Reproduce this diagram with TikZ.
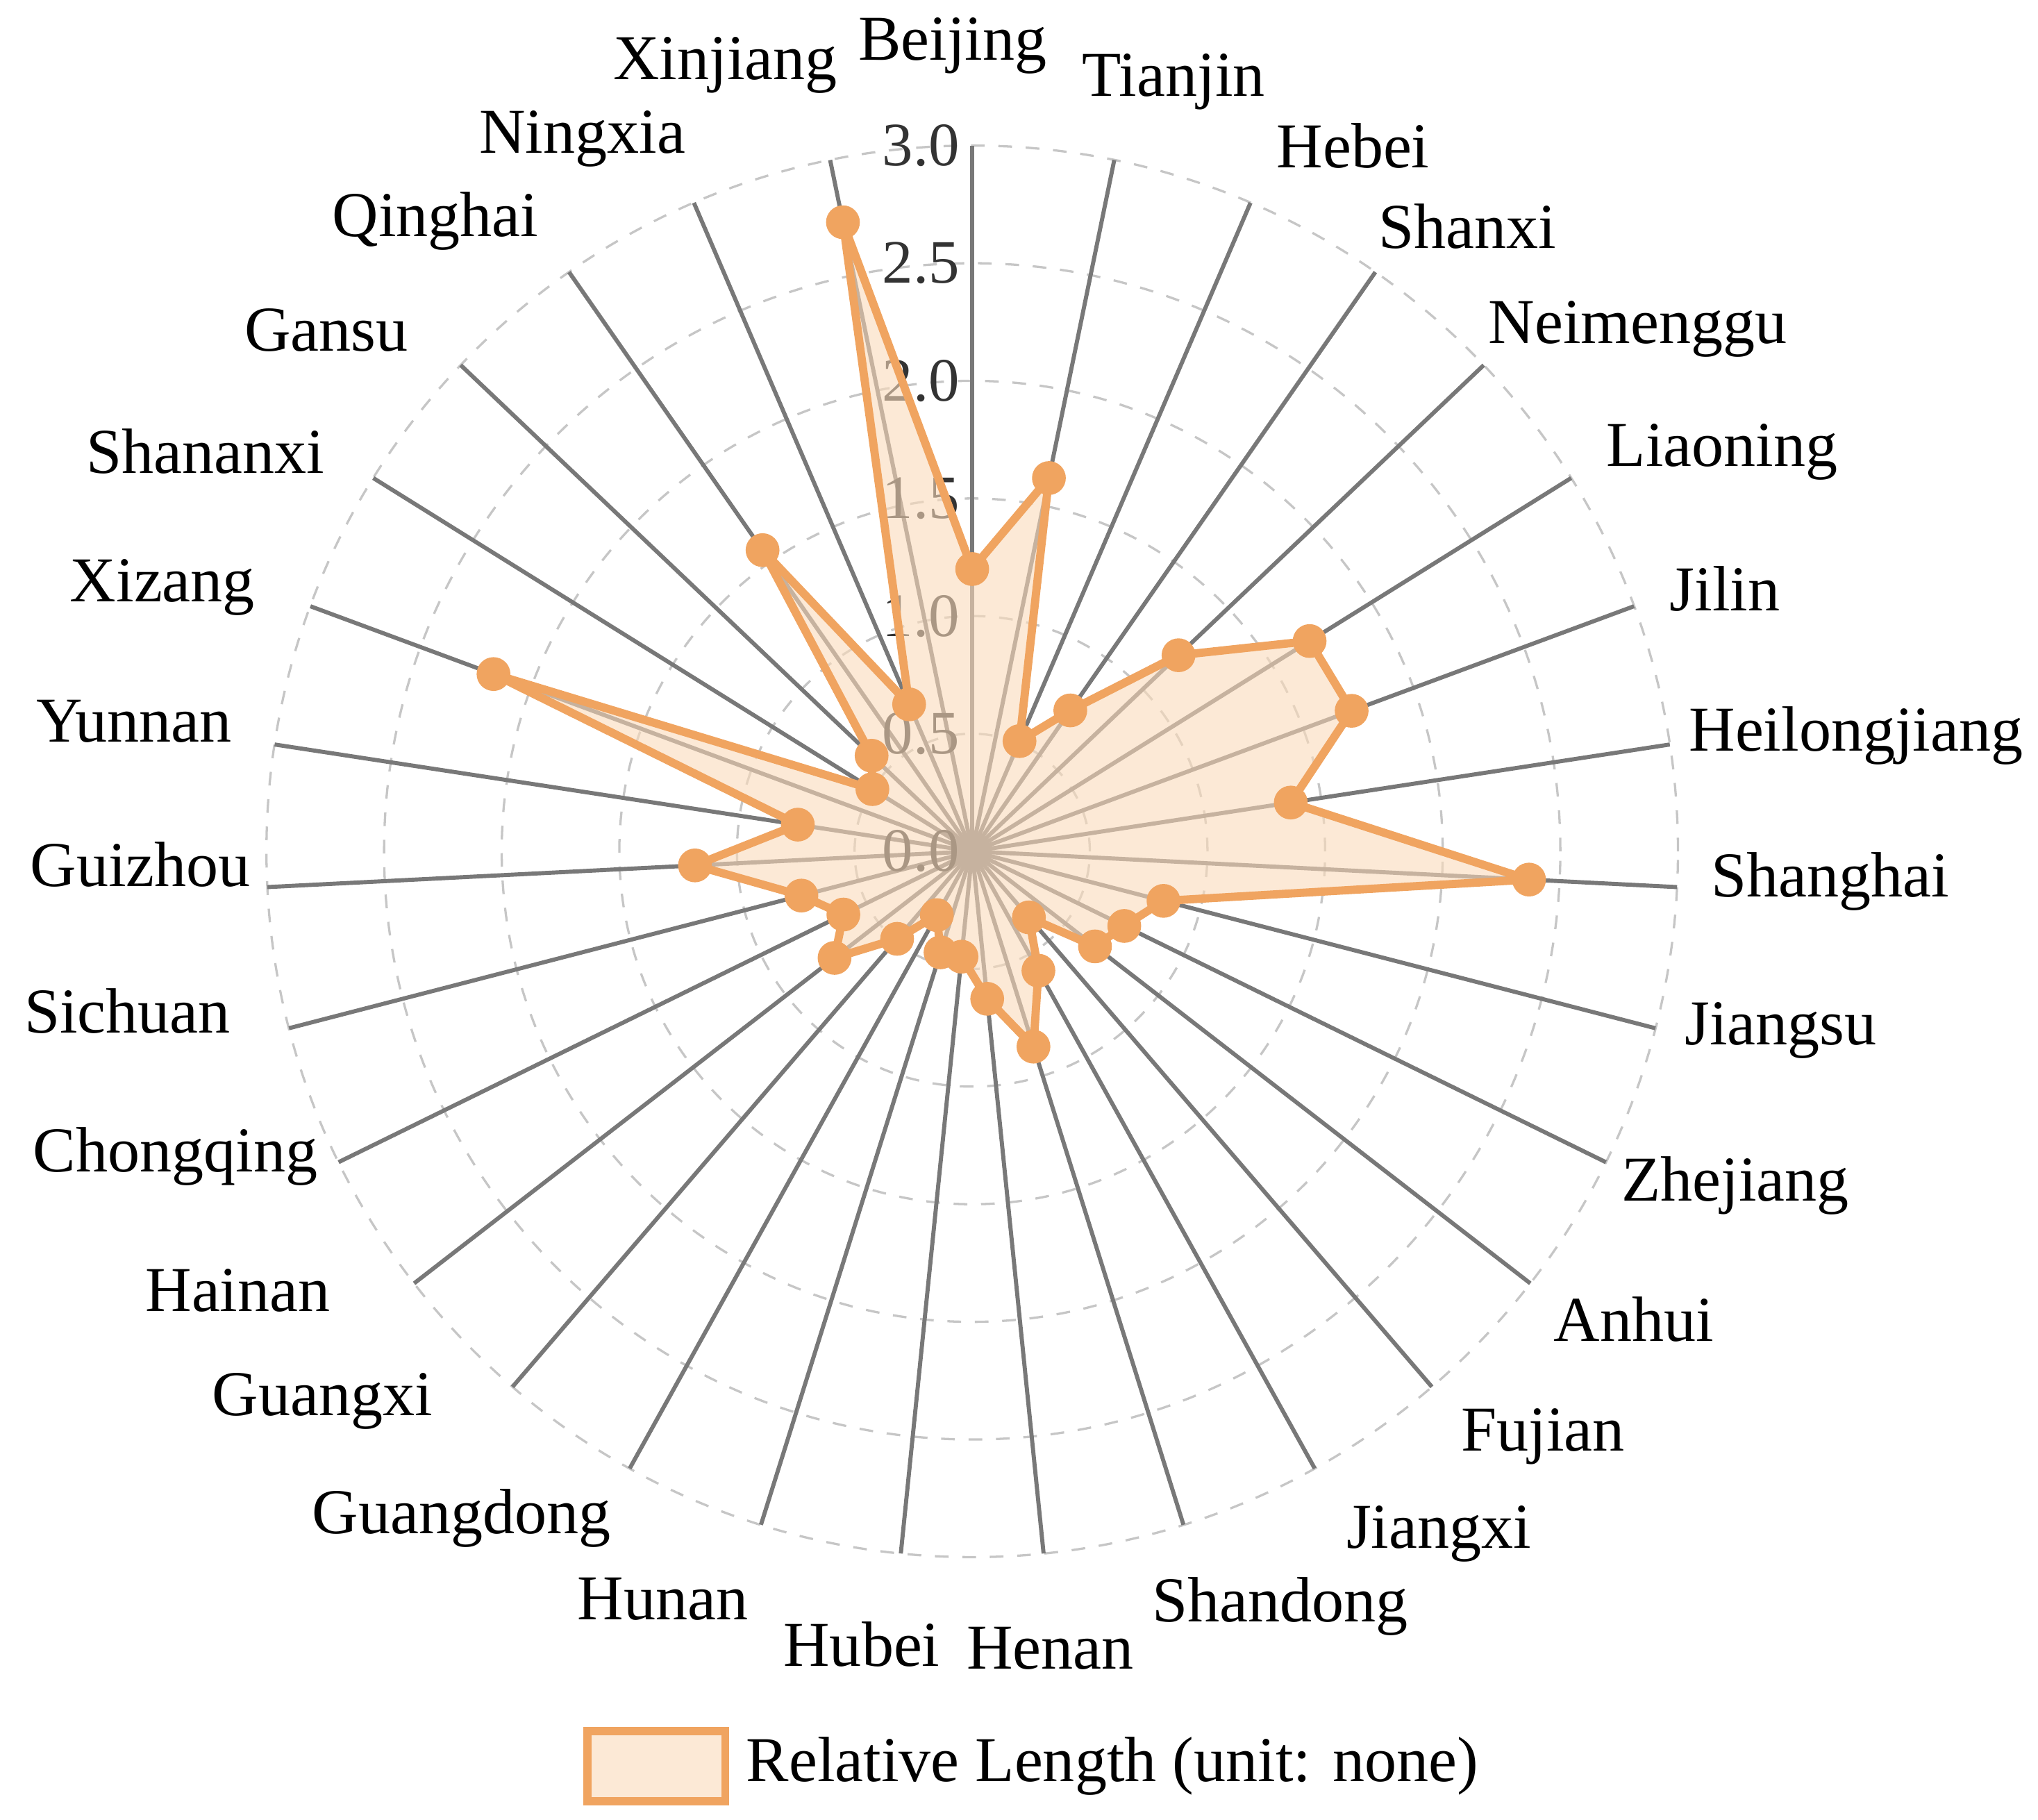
\documentclass[tikz,border=0pt]{standalone}
\usepackage{fontspec}
\setmainfont{Liberation Serif}
\definecolor{lineorange}{RGB}{240,164,96}
\definecolor{fillpeach}{RGB}{250,218,186}
\definecolor{spokegray}{RGB}{120,120,120}
\tikzset{
  gridcircle/.style={draw=gray!45,dashed,line width=0.5pt},
  spoke/.style={draw=spokegray,line width=0.9pt},
  provlabel/.style={font=\fontsize{14}{16}\selectfont,inner sep=1pt},
  ticklabel/.style={font=\fontsize{13.5}{15}\selectfont,text=black!80,anchor=east,inner sep=2pt},
  datadot/.style={fill=lineorange,draw=none},
}
\begin{document}
\begin{tikzpicture}
   \useasboundingbox (-7.48,-7.45) rectangle (8.20,6.55);
   % grid
   \foreach \r in {0.5,1.0,...,3.0}
     \draw[gridcircle] (0,0) circle ({1.81*\r});
   \foreach \i in {0,...,30}
     \draw[spoke] (0,0) -- ({90-\i*360/31}:5.43);
   % province labels
   \foreach \name/\x/\y [count=\i from 0] in {Beijing/-0.15/6.20,Tianjin/1.55/5.92,Hebei/2.93/5.43,Shanxi/3.81/4.81,Neimenggu/5.12/4.02,Liaoning/5.77/3.07,Jilin/5.79/2.02,Heilongjiang/6.80/0.89,Shanghai/6.60/-0.23,Jiangsu/6.22/-1.38,Zhejiang/5.87/-2.57,Anhui/5.09/-3.60,Fujian/4.39/-4.50,Jiangxi/3.59/-5.25,Shandong/2.37/-5.81,Henan/0.60/-6.13,Hubei/-0.85/-6.10,Hunan/-2.38/-5.75,Guangdong/-3.93/-5.13,Guangxi/-5.00/-4.23,Hainan/-5.65/-3.38,Chongqing/-6.13/-2.35,Sichuan/-6.50/-1.23,Guizhou/-6.40/-0.10,Yunnan/-6.45/1.00,Xizang/-6.23/2.03,Shananxi/-5.90/3.08,Gansu/-4.97/4.01,Qinghai/-4.13/4.85,Ningxia/-3.00/5.48,Xinjiang/-1.90/6.05}
     \node[provlabel] (lab\i) at (\x,\y) {\name};
   % ticks
   \foreach \t in {0.0,0.5,1.0,1.5,2.0,2.5,3.0}
     \node[ticklabel] (tick\t) at (-0.02,{1.81*\t}) {\t};
   % data
   \foreach \v [count=\i from 0] in {1.20,1.62,0.51,0.73,1.21,1.69,1.72,1.37,2.37,0.84,0.72,0.66,0.37,0.58,0.87,0.63,0.45,0.45,0.31,0.49,0.74,0.61,0.75,1.18,0.75,2.17,0.50,0.59,1.56,0.68,2.73}
     \coordinate (p\i) at ({90-\i*360/31}:{1.81*\v});
   \fill[fillpeach,fill opacity=0.6] (p0) \foreach \i in {1,...,30}{-- (p\i)} -- cycle;
   \draw[lineorange,line width=1.8pt,line join=round] (p0) \foreach \i in {1,...,30}{-- (p\i)} -- cycle;
   \foreach \i in {0,...,30}
     \fill[datadot] (p\i) circle (0.13);
   % legend
   \draw[lineorange,line width=1.8pt,fill=fillpeach,fill opacity=0.6] (-2.96,-6.77) rectangle (-1.90,-7.31);
   \node[provlabel,anchor=west] (legend) at (-1.78,-7.04) {Relative Length (unit: none)};
\end{tikzpicture}
\end{document}
